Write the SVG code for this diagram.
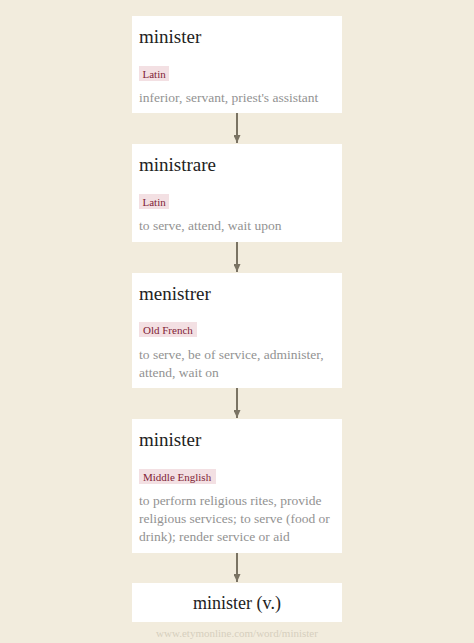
<svg xmlns="http://www.w3.org/2000/svg" width="474" height="643" viewBox="0 0 474 643">
<style>
.box{fill:#ffffff}
.title{font-family:"Liberation Serif",serif;font-size:19px;fill:#222222}
.tagbg{fill:#f3e0e3}
.tag{font-family:"Liberation Serif",serif;font-size:11px;fill:#7f1d36}
.def{font-family:"Liberation Serif",serif;font-size:13.5px;fill:#929292}
.final{font-family:"Liberation Serif",serif;font-size:18px;fill:#222222;text-anchor:middle}
.foot{font-family:"Liberation Serif",serif;font-size:11px;fill:#d6cfbd;text-anchor:middle}
.conn{stroke:#7a7363;stroke-width:2;fill:none;marker-end:url(#ah)}
</style>
<defs>
<marker id="ah" markerWidth="8" markerHeight="7" refX="8" refY="3.5" orient="auto" markerUnits="userSpaceOnUse" viewBox="0 0 8 7">
<path d="M0,0 L8,3.5 L0,7 Z" fill="#7a7363"/>
</marker>
</defs>
<rect width="474" height="643" fill="#f2ecdd"/>
<g id="connectors">
<line class="conn" x1="237" y1="113" x2="237" y2="143"/>
<line class="conn" x1="237" y1="242" x2="237" y2="272"/>
<line class="conn" x1="237" y1="388" x2="237" y2="418"/>
<line class="conn" x1="237" y1="553" x2="237" y2="582"/>
</g>
<g id="node-minister-latin">
<rect class="box" x="132" y="16" width="210" height="97"/>
<text class="title" x="139" y="43">minister</text>
<rect class="tagbg" x="139" y="66" width="30" height="15"/>
<text class="tag" x="142.5" y="77.5">Latin</text>
<text class="def" x="139" y="102">inferior, servant, priest's assistant</text>
</g>
<g id="node-ministrare">
<rect class="box" x="132" y="144" width="210" height="98"/>
<text class="title" x="139" y="171">ministrare</text>
<rect class="tagbg" x="139" y="194" width="30" height="15"/>
<text class="tag" x="142.5" y="205.5">Latin</text>
<text class="def" x="139" y="230">to serve, attend, wait upon</text>
</g>
<g id="node-menistrer">
<rect class="box" x="132" y="273" width="210" height="115"/>
<text class="title" x="139" y="300">menistrer</text>
<rect class="tagbg" x="139" y="322" width="58" height="15"/>
<text class="tag" x="143" y="333.5">Old French</text>
<text class="def" x="139" y="359">to serve, be of service, administer,</text>
<text class="def" x="139" y="377">attend, wait on</text>
</g>
<g id="node-minister-me">
<rect class="box" x="132" y="419" width="210" height="134"/>
<text class="title" x="139" y="446">minister</text>
<rect class="tagbg" x="139" y="469" width="77" height="15"/>
<text class="tag" x="143" y="480.5">Middle English</text>
<text class="def" x="139" y="505">to perform religious rites, provide</text>
<text class="def" x="139" y="523">religious services; to serve (food or</text>
<text class="def" x="139" y="541">drink); render service or aid</text>
</g>
<g id="node-minister-v">
<rect class="box" x="132" y="583" width="210" height="39"/>
<text class="final" x="237" y="609">minister (v.)</text>
</g>
<text class="foot" x="237" y="637">www.etymonline.com/word/minister</text>
</svg>
